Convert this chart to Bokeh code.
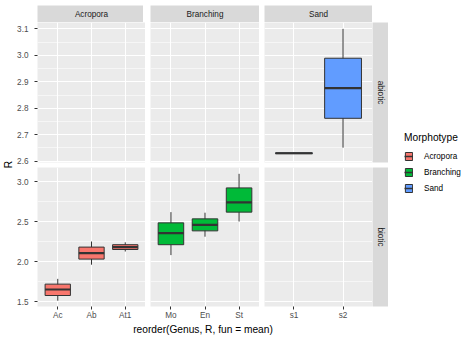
import math
from bokeh.plotting import figure
from bokeh.layouts import row, column
from bokeh.models import (Range1d, FactorRange, SingleIntervalTicker, ColumnDataSource,
                          Legend, LegendItem, PrintfTickFormatter)
from bokeh.transform import dodge
from bokeh.core.properties import value
from bokeh.embed import file_html
from bokeh.resources import INLINE

FONT = "Liberation Sans"

# ---------------- data ----------------
conditions = ["abiotic", "biotic"]
morphotypes = ["Acropora", "Branching", "Sand"]
morph_colors = ["#F8766D", "#00BA38", "#619CFF"]
genus_acropora = ["Ac", "Ab", "At1"]
genus_branching = ["Mo", "En", "St"]
genus_sand = ["s1", "s2"]
x_title = "reorder(Genus, R, fun = mean)"
y_title = "R"
legend_title = "Morphotype"

box_genus = ["Ac", "Ab", "At1", "Mo", "En", "St", "s1", "s2"]
box_morph = ["Acropora", "Acropora", "Acropora", "Branching", "Branching", "Branching", "Sand", "Sand"]
box_condition = ["biotic", "biotic", "biotic", "biotic", "biotic", "biotic", "abiotic", "abiotic"]
box_lower = [1.51, 1.96, 2.125, 2.08, 2.31, 2.50, 2.628, 2.651]
box_q1 = [1.575, 2.03, 2.15, 2.21, 2.383, 2.617, 2.6285, 2.762]
box_median = [1.65, 2.104, 2.18, 2.354, 2.458, 2.74, 2.630, 2.876]
box_q3 = [1.717, 2.18, 2.21, 2.483, 2.533, 2.92, 2.6315, 2.989]
box_upper = [1.783, 2.25, 2.24, 2.617, 2.61, 3.096, 2.632, 3.10]

row_limits = {"abiotic": (2.595, 3.124), "biotic": (1.4375, 3.175)}
row_interval = {"abiotic": 0.1, "biotic": 0.5}

PANEL_BG = "#EBEBEB"
STRIP_BG = "#D9D9D9"
OUTLINE = "#333333"


def base_fig(x_range, y_range, fw, fh, left, right, top, bottom, **kw):
    return figure(x_range=x_range, y_range=y_range, frame_width=fw, frame_height=fh,
                  min_border_left=left, min_border_right=right, min_border_top=top,
                  min_border_bottom=bottom, toolbar_location=None, output_backend="svg",
                  border_fill_color="white", outline_line_color=None, **kw)


def box_source(cond=None, morph=None):
    idx = [i for i in range(len(box_genus))
           if (cond is None or box_condition[i] == cond) and box_morph[i] == morph]
    return ColumnDataSource(dict(
        x=[box_genus[i] for i in idx],
        lower=[box_lower[i] for i in idx],
        q1=[box_q1[i] for i in idx],
        median=[box_median[i] for i in idx],
        q3=[box_q3[i] for i in idx],
        upper=[box_upper[i] for i in idx],
    )), len(idx)


def panel(factors, cond, morph, show_x, show_y, fw, fh, left, top, bottom):
    lo, hi = row_limits[cond]
    p = base_fig(FactorRange(factors=factors, range_padding=0.1, range_padding_units="absolute"),
                 Range1d(lo, hi), fw, fh, left, 0, top, bottom,
                 background_fill_color=PANEL_BG)
    ticker = SingleIntervalTicker(interval=row_interval[cond], num_minor_ticks=2)
    p.yaxis.ticker = ticker
    p.yaxis.formatter = PrintfTickFormatter(format="%.1f")
    p.ygrid.ticker = ticker
    for g in p.grid:
        g.grid_line_color = "white"
        g.grid_line_width = 1.1
    p.ygrid.minor_grid_line_color = "white"
    p.ygrid.minor_grid_line_width = 0.55
    for ax in p.axis:
        ax.axis_line_color = None
        ax.major_tick_line_color = OUTLINE
        ax.major_tick_line_width = 1
        ax.major_tick_out = 3
        ax.major_tick_in = 0
        ax.minor_tick_line_color = None
        ax.major_label_text_font = FONT
        ax.major_label_text_font_size = "8.2px"
        ax.major_label_text_color = "#4D4D4D"
    p.yaxis.major_label_standoff = 5
    p.xaxis.major_label_standoff = 1
    p.xaxis.visible = show_x
    p.yaxis.visible = show_y

    src, n = box_source(cond, morph)
    if n:
        col = morph_colors[morphotypes.index(morph)]
        p.segment(x0="x", y0="lower", x1="x", y1="upper", source=src,
                  line_color=OUTLINE, line_width=1)
        p.vbar(x="x", width=0.75, bottom="q1", top="q3", source=src,
               fill_color=col, line_color=OUTLINE, line_width=1)
        p.segment(x0=dodge("x", -0.375, range=p.x_range), y0="median",
                  x1=dodge("x", 0.375, range=p.x_range), y1="median", source=src,
                  line_color=OUTLINE, line_width=2.2)
    return p


def strip(name, fw, fh, left, right, top, bottom, angle=0.0, bg=STRIP_BG, size="8.2px",
          color="#1A1A1A"):
    p = base_fig(FactorRange(factors=[name]), FactorRange(factors=[name]), fw, fh,
                 left, right, top, bottom, background_fill_color=bg,
                 x_axis_location=None, y_axis_location=None)
    for g in p.grid:
        g.visible = False
    p.text(x=[name], y=[name], text=[name], text_align="center", text_baseline="middle",
           angle=angle, text_font=value(FONT), text_font_size=size, text_color=color)
    return p


# ---------------- layout ----------------
cols_spec = [
    ("Acropora", genus_acropora, 21, 108),
    ("Branching", genus_branching, 5, 109),
    ("Sand", genus_sand, 5, 108),
]

columns = []
for morph, factors, left, fw in cols_spec:
    s = strip(morph, fw, 17, left, 0, 5, 0)
    p1 = panel(factors, "abiotic", morph, False, morph == "Acropora", fw, 140, left, 0, 4)
    p2 = panel(factors, "biotic", morph, True, morph == "Acropora", fw, 139, left, 1, 14)
    columns.append(column(s, p1, p2, spacing=0))

right_strips = column(strip("abiotic", 16, 140, 0, 0, 22, 4, angle=-math.pi / 2),
                      strip("biotic", 16, 139, 0, 0, 1, 14, angle=-math.pi / 2), spacing=0)

ylab = strip(y_title, 12, 284, 2, 0, 22, 14, angle=math.pi / 2, bg="white",
             size="10.2px", color="black")

xlab = strip(x_title, 335, 13, 35, 16, 0, 5, bg="white", size="10.2px", color="black")

main = column(row(ylab, *columns, right_strips, spacing=0), xlab, spacing=0)

# legend figure: key glyphs use the same box data (renderers hidden, keys shown)
lf = base_fig(FactorRange(factors=box_genus), Range1d(0, 1), 88, 338, 0, 0, 0, 0,
              x_axis_location=None, y_axis_location=None, background_fill_color="white")
for g in lf.grid:
    g.visible = False
items = []
for m, c in zip(morphotypes, morph_colors):
    src, _ = box_source(None, m)
    rb = lf.vbar(x="x", width=0.75, bottom="q1", top="q3", source=src,
                 fill_color=c, line_color=OUTLINE, line_width=1)
    rm = lf.segment(x0="x", y0="median", x1="x", y1="median", source=src,
                    line_color=OUTLINE, line_width=1.5)
    rb.visible = False
    rm.visible = False
    items.append(LegendItem(label=value(m), renderers=[rb, rm]))
legend = Legend(items=items, location=(16, 145), title=legend_title,
                title_text_font=FONT, title_text_font_size="10.2px",
                title_text_font_style="normal", title_text_color="black", title_standoff=8,
                label_text_font=FONT, label_text_font_size="8.2px", label_text_color="black",
                glyph_width=9, glyph_height=10, label_height=10, label_standoff=11,
                spacing=6, padding=0, margin=0, border_line_color=None,
                background_fill_alpha=0, inactive_fill_alpha=0)
lf.add_layout(legend)

layout = row(main, lf, spacing=0)

open("out.html", "w").write(file_html(layout, INLINE))
